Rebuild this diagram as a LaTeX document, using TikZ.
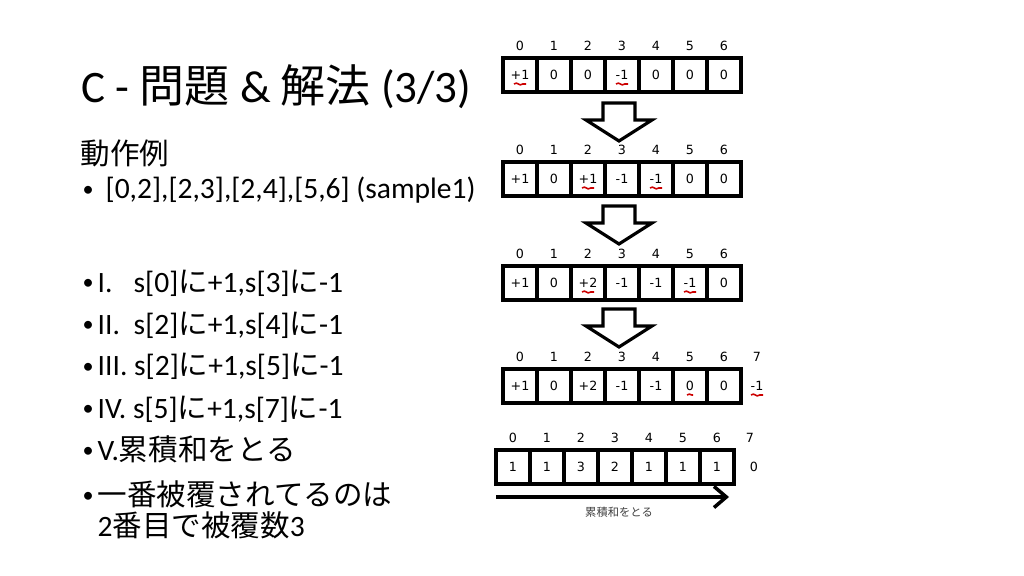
\documentclass[tikz,border=0pt]{standalone}
\usepackage{fontspec}
\setmainfont{Carlito}
\newfontfamily\jpfont{Noto Sans CJK JP}
\newfontfamily\cellfont{DejaVu Sans}
\newcommand{\jtext}[1]{{\jpfont #1}}
\newcommand{\smallbullet}{\raisebox{0.08em}{\scalebox{0.75}{•}}}
\usetikzlibrary{arrows.meta}
\usetikzlibrary{decorations.pathmorphing}

\tikzset{
  cell/.style={draw, line width=0.9pt, minimum width=0.34cm, minimum height=0.34cm,
    inner sep=0pt, font=\cellfont\fontsize{3.6}{4}\selectfont},
  idx/.style={inner sep=0pt, font=\cellfont\fontsize{3.6}{4}\selectfont},
  titletext/.style={anchor=base west, inner sep=0pt, font=\fontsize{12.8}{15}\selectfont},
  body/.style={anchor=base west, inner sep=0pt, font=\fontsize{8.4}{10}\selectfont},
  redline/.style={red!80!black, line width=0.45pt, decorate,
    decoration={snake, amplitude=0.25pt, segment length=2.2pt}},
  downarrow/.style={draw, line width=0.9pt, fill=white},
}

\begin{document}
\begin{tikzpicture}[x=0.01cm, y=-0.01cm]
\useasboundingbox[fill=white] (0,0) rectangle (1024,576);

% left column
\node[titletext] (title) at (81,103) {C - \jtext{問題} \& \jtext{解法} (3/3)};
\node[body] (head) at (80,165) {\jtext{動作例}};
\node[body] (d0) at (82,199) {\smallbullet};
\node[body] (t0) at (105,199) {[0,2],[2,3],[2,4],[5,6] (sample1)};
\node[body] (d1) at (82,292) {\smallbullet};
\node[body] (t1) at (97,292) {I.\hspace{6pt}s[0]\jtext{に}+1,s[3]\jtext{に}-1};
\node[body] (d2) at (82,334) {\smallbullet};
\node[body] (t2) at (97,334) {II.\hspace{2pt} s[2]\jtext{に}+1,s[4]\jtext{に}-1};
\node[body] (d3) at (82,376) {\smallbullet};
\node[body] (t3) at (97,376) {III. s[2]\jtext{に}+1,s[5]\jtext{に}-1};
\node[body] (d4) at (82,418) {\smallbullet};
\node[body] (t4) at (97,418) {IV. s[5]\jtext{に}+1,s[7]\jtext{に}-1};
\node[body] (d5) at (82,460) {\smallbullet};
\node[body] (t5) at (97,460) {V.\jtext{累積和をとる}};
\node[body] (d6) at (82,505) {\smallbullet};
\node[body] (t6) at (97,505) {\jtext{一番被覆されてるのは}};
\node[body] (t7) at (97,536) {2\jtext{番目で被覆数}3};

% arrays
\foreach \r/\x/\y/\vals in {1/503/75/{+1,0,0,-1,0,0,0},
                            2/503/179/{+1,0,+1,-1,-1,0,0},
                            3/503/283/{+1,0,+2,-1,-1,-1,0},
                            4/503/386/{+1,0,+2,-1,-1,0,0},
                            5/496/467/{1,1,3,2,1,1,1}}{
  \foreach \v [count=\i from 0] in \vals {
    \node[cell] (c\r-\i) at (\x+34*\i+17,\y) {\v};
    \node[idx] (n\r-\i) at (\x+34*\i+17,\y-29) {\i};
  }
}
\node[idx] (n4-7) at (757,357) {7};
\node[idx] (v4-7) at (757,386) {-1};
\node[idx] (n5-7) at (750,438) {7};
\node[idx] (v5-7) at (754,467) {0};

% red marks
\foreach \r/\i/\w in {1/0/12,1/3/12,2/2/12,2/4/12,3/2/12,3/5/12,4/5/6}
  \draw[redline] ([shift={(-\w/2,9)}]c\r-\i.center) -- ++(\w,0);
\draw[redline] ([shift={(-6,9)}]v4-7.center) -- ++(12,0);

% down arrows
\foreach \t in {103,206,309}
  \draw[downarrow] (603,\t) -- (635,\t) -- (635,\t+17) -- (652,\t+17)
    -- (619,\t+38) -- (586,\t+17) -- (603,\t+17) -- cycle;

% running sum
\coordinate (s0) at (496,497);
\coordinate (s1) at (729,497);
\draw[line width=1pt, -{Straight Barb[length=3.5pt,width=6pt]}] (s0) -- (s1);
\node[inner sep=0pt, text=black!75, font=\jpfont\fontsize{3.2}{4}\selectfont] (sumlbl) at (619,512) {累積和をとる};
\end{tikzpicture}
\end{document}
